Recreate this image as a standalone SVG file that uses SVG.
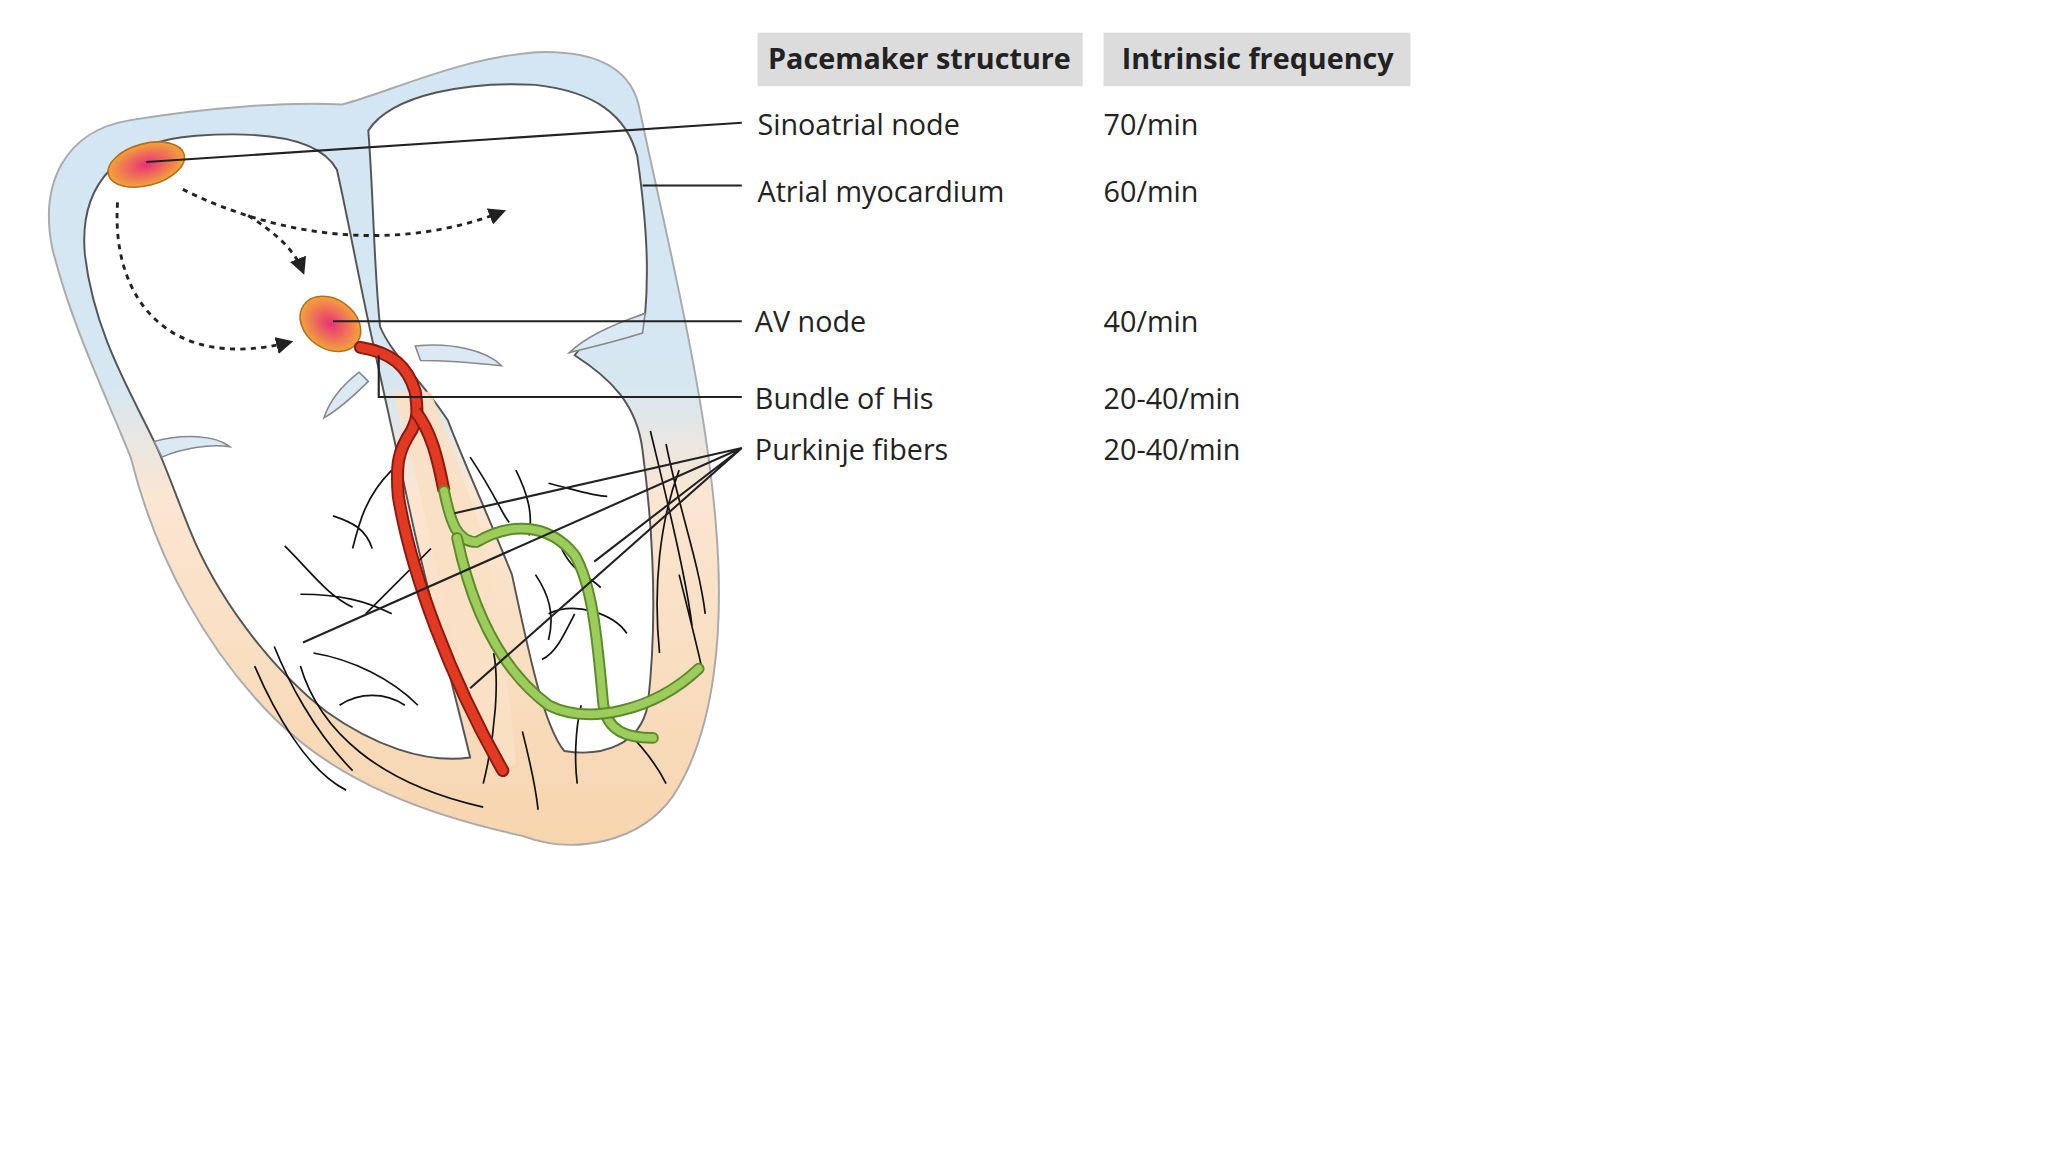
<svg xmlns="http://www.w3.org/2000/svg" width="2048" height="1152" viewBox="0 0 2048 1152">
<defs>
<linearGradient id="wall" x1="0" y1="0" x2="0" y2="1">
<stop offset="0" stop-color="#d3e6f3"/><stop offset="0.42" stop-color="#d6e7f2"/><stop offset="0.56" stop-color="#fbe6d2"/><stop offset="1" stop-color="#f7d5ae"/>
</linearGradient>
<radialGradient id="node"><stop offset="0" stop-color="#e8307a"/><stop offset="0.5" stop-color="#ee6a5a"/><stop offset="1" stop-color="#f3a43a"/></radialGradient>
<marker id="ah" viewBox="0 0 10 10" refX="8" refY="5" markerWidth="6" markerHeight="6" orient="auto"><path d="M0,0 L10,5 L0,10 Z" fill="#222"/></marker>
<style>
.t{font-family:"Open Sans","Liberation Sans",sans-serif;font-size:22px;fill:#222}
.h{font-weight:bold}
.ld{stroke:#222;stroke-width:1.6;fill:none}
.pk{stroke:#111;stroke-width:1.3;fill:none}
.dash{stroke:#222;stroke-width:2.2;fill:none;stroke-dasharray:4 4;marker-end:url(#ah)}
.ch{fill:#fff;stroke:#555;stroke-width:1.5}
.fl{fill:#dbe9f4;stroke:#888;stroke-width:1.2}
</style>
</defs>
<g transform="scale(1.306)">
<g id="heart">
<path d="M40,190 C30,140 50,100 100,92 C160,82 220,78 262,80 C300,70 350,45 410,40 C460,38 485,55 490,85 C510,180 540,300 548,400 C555,480 548,560 515,610 C490,645 440,655 400,640 C330,625 260,600 210,550 C160,500 120,430 100,350 C80,300 55,250 40,190 Z" fill="url(#wall)" stroke="#aaa" stroke-width="1.5"/>
<path class="ch" d="M65,195 C60,140 92,108 150,104 C205,100 245,106 258,130 C268,175 275,215 285,260 C294,300 305,350 318,410 C332,470 348,530 360,580 C325,585 285,570 250,545 C205,510 165,455 145,405 C133,375 125,352 118,338 C100,300 72,255 65,195 Z"/>
<path class="ch" d="M282,100 C300,72 360,62 410,65 C455,70 480,88 488,120 C495,170 497,205 494,240 C470,250 448,260 440,272 C468,290 488,310 492,345 C500,405 504,470 496,540 C490,570 462,580 432,575 C416,555 405,500 392,440 C376,400 356,356 343,322 C322,290 300,272 291,250 C286,200 286,150 282,100 Z"/>
<path fill="#f9e0c4" d="M300,300 C315,340 330,420 345,480 C358,530 370,570 378,590 L395,585 C390,520 380,470 372,420 C362,380 340,330 330,300 Z" opacity="0.9"/>
<path class="fl" d="M118,338 C140,332 165,333 176,342 C160,340 140,343 124,350 Z"/>
<path class="fl" d="M275,285 C262,295 252,308 248,320 C260,313 272,302 282,292 Z"/>
<path class="fl" d="M318,265 C345,262 372,268 384,280 C365,278 340,276 322,276 Z"/>
<path class="fl" d="M494,240 C470,248 448,258 436,270 C452,266 470,262 492,255 Z"/>
</g>
<g id="sa-node"><ellipse cx="112" cy="126" rx="30" ry="16" transform="rotate(-15 112 126)" fill="url(#node)" stroke="#b07020" stroke-width="1.2"/></g>
<g id="av-node"><ellipse cx="253" cy="248" rx="25" ry="19" transform="rotate(35 253 248)" fill="url(#node)" stroke="#b07020" stroke-width="1.2"/></g>
<g id="purkinje">
<path class="pk" d="M218,418 C240,440 250,455 270,465 M230,455 C260,455 280,460 300,470 M240,500 C270,505 300,520 320,540 M210,495 C220,520 240,560 270,590 M195,510 C210,545 235,590 265,605 M230,510 C245,560 290,600 370,618 M260,540 C275,530 295,530 310,540 M280,470 C300,450 320,430 330,420 M360,350 C380,380 385,395 390,400 M395,360 C405,380 408,395 405,410 M420,370 C440,375 455,380 465,380 M430,420 C440,440 450,440 460,450 M420,470 C440,460 470,470 480,485 M445,540 C440,560 440,585 442,600 M400,560 C405,580 410,600 412,620 M480,560 C495,575 505,590 510,600 M498,330 C510,380 525,440 530,480 M510,340 C520,390 535,430 540,470 M520,360 C505,400 500,450 505,500 M520,440 C530,480 535,500 537,510 M370,600 C380,560 382,520 378,500 M410,440 C420,455 425,470 420,490 M440,470 C430,490 425,500 415,505 M300,360 C280,380 275,400 270,420 M255,395 C270,400 280,405 285,420"/>
</g>
<g id="bundle">
<path d="M276,266 C300,270 312,280 318,300 C320,315 320,320 315,330 C305,345 303,355 305,380 C315,440 345,520 385,590" stroke="#8a1a10" stroke-width="10" fill="none" stroke-linecap="round"/>
<path d="M276,266 C300,270 312,280 318,300 C320,315 320,320 315,330 C305,345 303,355 305,380 C315,440 345,520 385,590" stroke="#e23a22" stroke-width="7" fill="none" stroke-linecap="round"/>
<path d="M318,315 C330,330 335,350 340,376" stroke="#8a1a10" stroke-width="10" fill="none"/>
<path d="M318,315 C330,330 335,350 340,376" stroke="#e23a22" stroke-width="7" fill="none"/>
<g stroke-linecap="round" fill="none">
<path d="M340,376 C345,400 350,415 365,415 C390,400 420,400 440,425 C455,450 458,500 462,540 C465,560 480,565 500,565" stroke="#5d8a2a" stroke-width="9"/>
<path d="M340,376 C345,400 350,415 365,415 C390,400 420,400 440,425 C455,450 458,500 462,540 C465,560 480,565 500,565" stroke="#9ccc5c" stroke-width="6"/>
<path d="M350,412 C360,460 380,510 420,540 C450,555 500,545 535,512" stroke="#5d8a2a" stroke-width="9"/>
<path d="M350,412 C360,460 380,510 420,540 C450,555 500,545 535,512" stroke="#9ccc5c" stroke-width="6"/>
</g>
</g>
<g id="connectors">
<path class="dash" d="M140,145 C210,180 300,195 385,162"/>
<path class="dash" d="M190,165 C210,178 225,190 232,208"/>
<path class="dash" d="M90,155 C85,230 130,285 222,262"/>
<path class="ld" d="M112,124 L568,94"/>
<path class="ld" d="M492,142 L568,142"/>
<path class="ld" d="M255,246 L568,246"/>
<path class="ld" d="M290,272 L290,304 L568,304"/>
<path class="ld" d="M568,343 L348,393 M568,343 L232,492 M568,343 L360,527 M568,343 L455,430"/>
</g>
<g id="table">
<rect x="580" y="25" width="249" height="41" fill="#dcdcdc"/>
<rect x="845" y="25" width="235" height="41" fill="#dcdcdc"/>
<text class="t h" x="704" y="53" text-anchor="middle">Pacemaker structure</text>
<text class="t h" x="963" y="53" text-anchor="middle">Intrinsic frequency</text>
<text class="t" x="580" y="103">Sinoatrial node</text><text class="t" x="845" y="103">70/min</text>
<text class="t" x="580" y="155">Atrial myocardium</text><text class="t" x="845" y="155">60/min</text>
<text class="t" x="578" y="254">AV node</text><text class="t" x="845" y="254">40/min</text>
<text class="t" x="578" y="313">Bundle of His</text><text class="t" x="845" y="313">20-40/min</text>
<text class="t" x="578" y="352">Purkinje fibers</text><text class="t" x="845" y="352">20-40/min</text>
</g>
</g>
</svg>
